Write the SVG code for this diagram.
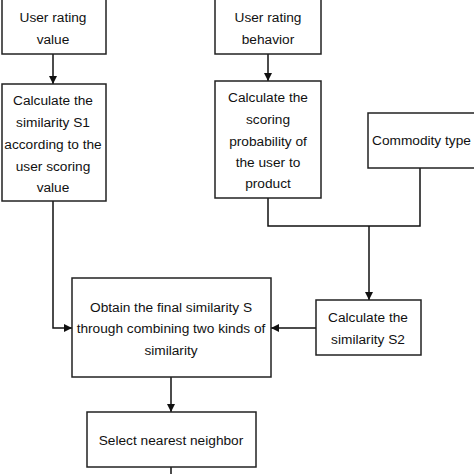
<svg xmlns="http://www.w3.org/2000/svg" width="474" height="474" viewBox="0 0 474 474">
<style>
.box{fill:#fff;stroke:#222;stroke-width:1.5}
.t{font-family:"Liberation Sans",Arial,sans-serif;font-size:13.7px;fill:#111;text-anchor:middle}
.c{fill:none;stroke:#111;stroke-width:1.5}
</style>
<defs>
<marker id="ah" viewBox="0 0 10 10" refX="10" refY="5" markerWidth="8" markerHeight="8" markerUnits="userSpaceOnUse" orient="auto">
<path d="M0,0 L10,5 L0,10 Z" fill="#111"/>
</marker>
</defs>
<rect width="474" height="474" fill="#fff"/>
<g id="connectors">
<path class="c" d="M53,54 V84" marker-end="url(#ah)"/>
<path class="c" d="M268,54 V81" marker-end="url(#ah)"/>
<path class="c" d="M53,201 V328 H72" marker-end="url(#ah)"/>
<path class="c" d="M268,198 V226 H420 V168"/>
<path class="c" d="M369,226 V300" marker-end="url(#ah)"/>
<path class="c" d="M316,328 H271" marker-end="url(#ah)"/>
<path class="c" d="M171,377 V412" marker-end="url(#ah)"/>
<path class="c" d="M171,467 V476"/>
</g>
<g id="n1">
<rect class="box" x="2" y="-10" width="104" height="64"/>
<text class="t" x="53" y="22">User rating</text>
<text class="t" x="53" y="44">value</text>
</g>
<g id="n2">
<rect class="box" x="215" y="-10" width="106" height="64"/>
<text class="t" x="268" y="22">User rating</text>
<text class="t" x="268" y="44">behavior</text>
</g>
<g id="n3">
<rect class="box" x="2" y="84" width="104" height="117"/>
<text class="t" x="53" y="105">Calculate the</text>
<text class="t" x="53" y="127">similarity S1</text>
<text class="t" x="53" y="149">according to the</text>
<text class="t" x="53" y="171">user scoring</text>
<text class="t" x="53" y="192">value</text>
</g>
<g id="n4">
<rect class="box" x="215" y="81" width="106" height="117"/>
<text class="t" x="268" y="102">Calculate the</text>
<text class="t" x="268" y="124">scoring</text>
<text class="t" x="268" y="146">probability of</text>
<text class="t" x="268" y="167">the user to</text>
<text class="t" x="268" y="188">product</text>
</g>
<g id="n5">
<rect class="box" x="368" y="113" width="112" height="55"/>
<text class="t" x="372" y="145" style="text-anchor:start">Commodity type</text>
</g>
<g id="n6">
<rect class="box" x="72" y="278" width="199" height="99"/>
<text class="t" x="171" y="312">Obtain the final similarity S</text>
<text class="t" x="171" y="333">through combining two kinds of</text>
<text class="t" x="171" y="355">similarity</text>
</g>
<g id="n7">
<rect class="box" x="316" y="300" width="105" height="55"/>
<text class="t" x="368" y="322">Calculate the</text>
<text class="t" x="368" y="344">similarity S2</text>
</g>
<g id="n8">
<rect class="box" x="87" y="412" width="169" height="55"/>
<text class="t" x="171" y="445">Select nearest neighbor</text>
</g>
</svg>
